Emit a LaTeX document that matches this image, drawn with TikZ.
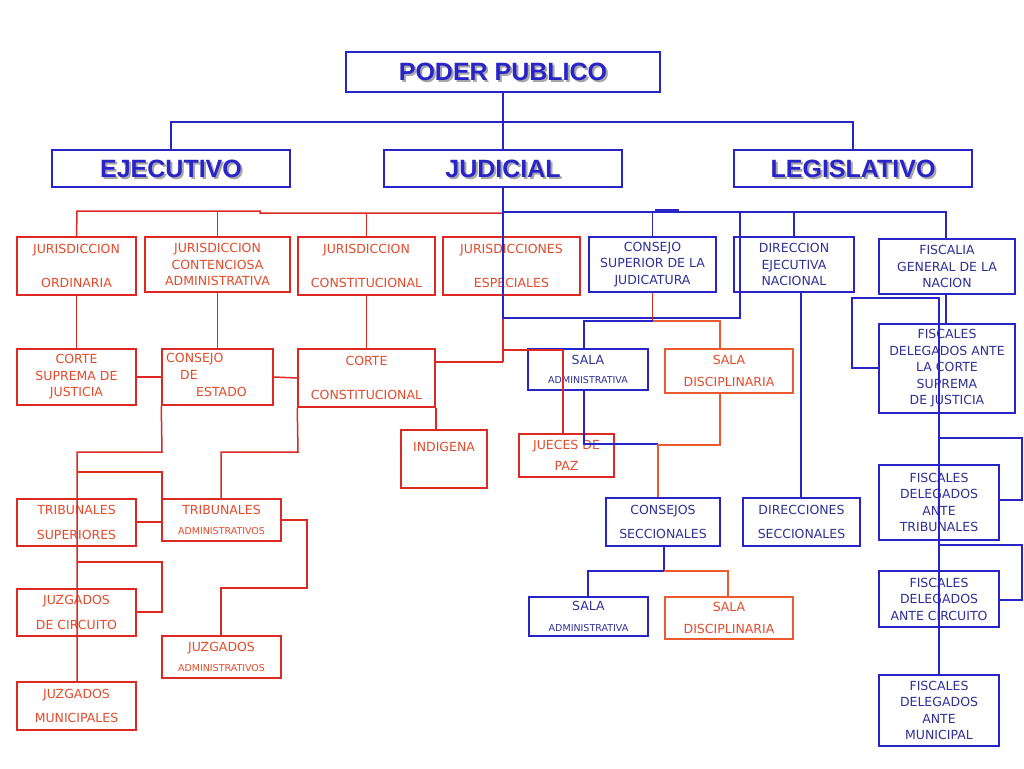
\documentclass[tikz,border=0pt]{standalone}
\usepackage{fontspec}
\setmainfont{DejaVu Sans}
\newfontfamily\titlefont{Liberation Sans}
\begin{document}
\begin{tikzpicture}[x=1pt,y=-1pt,
  rl/.style={draw={rgb,255:red,222;green,40;blue,36},line width=1.5pt},
  bl/.style={draw={rgb,255:red,40;green,36;blue,200},line width=1.5pt},
  ol/.style={draw={rgb,255:red,236;green,90;blue,50},line width=1.5pt}]
\definecolor{lr}{RGB}{222,40,36}
\definecolor{tr}{RGB}{226,76,44}
\definecolor{lb}{RGB}{40,36,200}
\definecolor{tb}{RGB}{48,48,150}
\definecolor{lo}{RGB}{236,90,50}
\tikzset{box/.style={draw,line width=1.5pt,inner sep=0pt,align=center,font=\fontsize{12.5}{16.5}\selectfont}}
\newcommand\sm{\fontsize{9.5}{11}\selectfont}
\newcommand\bx[7]{\node[box,draw=#6,text=#7,minimum width={(#4-#2)*1pt},minimum height={(#5-#3)*1pt}] (#1) at ({(#2+#4)/2},{(#3+#5)/2})}
\newcommand\ttl[6]{\node[draw=lb,line width=1.5pt,minimum width={(#4-#2)*1pt},minimum height={(#5-#3)*1pt},inner sep=0pt] (#1) at ({(#2+#4)/2},{(#3+#5)/2}) {};
 \node[text=gray!70,font=\titlefont\bfseries\fontsize{25}{28}\selectfont] at ([xshift=2pt,yshift=-2pt]#1.center) {#6};
 \node[text=lb,font=\titlefont\bfseries\fontsize{25}{28}\selectfont] at (#1.center) {#6};}
\useasboundingbox (0,0) rectangle (1024,768);
\fill[white] (0,0) rectangle (1024,768);
% titles
\ttl{pp}{346}{52}{660}{92}{PODER PUBLICO}
\ttl{ej}{52}{150}{290}{187}{EJECUTIVO}
\ttl{ju}{384}{150}{622}{187}{JUDICIAL}
\ttl{le}{734}{150}{972}{187}{LEGISLATIVO}
\draw[bl] (pp.south) -- (503,122) coordinate (ppb);
\draw[bl] (ej.north) |- (le.north |- ppb) -- (le.north);
\draw[bl] (ppb) -- (ju.north);
% row 2
\bx{jo}{17}{237}{136}{295}{lr}{tr}{JURISDICCION\\[17pt]ORDINARIA};
\bx{jca}{145}{237}{290}{292}{lr}{tr}{JURISDICCION\\CONTENCIOSA\\ADMINISTRATIVA};
\bx{jc}{298}{237}{435}{295}{lr}{tr}{JURISDICCION\\[17pt]CONSTITUCIONAL};
\bx{je}{443}{237}{580}{295}{lr}{tr}{JURISDICCIONES\\[17pt]ESPECIALES};
\bx{csj}{589}{237}{716}{292}{lb}{tb}{CONSEJO\\SUPERIOR DE LA\\JUDICATURA};
\bx{den}{734}{237}{854}{292}{lb}{tb}{DIRECCION\\EJECUTIVA\\NACIONAL};
\bx{fgn}{879}{239}{1015}{294}{lb}{tb}{FISCALIA\\GENERAL DE LA\\NACION};
% red bus
\draw[rl] (jo.north) -- (77,211) -- (260,211) -- (260,213) -- (503,213);
\draw[rl] (jca.north) -- (jca.north |- 0,211);
\draw[rl] (jc.north) -- (jc.north |- 0,213);
\draw[rl] (503,213) -- (503,362) coordinate (rdrop);
% blue bus
\draw[bl] (ju.south) -- (503,318) -- (740,318) -- (740,212) -- (503,212);
\draw[bl] (656,212) -- (656,210) -- (678,210) -- (678,212) -- (946,212) -- (fgn.north -| 946,0);
\draw[bl] (csj.north) -- (csj.north |- 0,212);
\draw[bl] (den.north) -- (den.north |- 0,212);
% row 3
\bx{cs}{17}{349}{136}{405}{lr}{tr}{CORTE\\SUPREMA DE\\JUSTICIA};
\node[box,draw=lr,minimum width=111pt,minimum height=56pt] (ce) at (217.5,377) {};
\node[text=tr,font=\fontsize{12.5}{16.5}\selectfont,anchor=north west,inner sep=0pt] at (166,353) {CONSEJO};
\node[text=tr,font=\fontsize{12.5}{16.5}\selectfont,anchor=north west,inner sep=0pt] at (180,370) {DE};
\node[text=tr,font=\fontsize{12.5}{16.5}\selectfont,anchor=north west,inner sep=0pt] at (196,387) {ESTADO};
\bx{cc}{298}{349}{435}{407}{lr}{tr}{CORTE\\[17pt]CONSTITUCIONAL};
\bx{ind}{401}{430}{487}{488}{lr}{tr}{INDIGENA\\[8pt]};
\draw[rl] (jo.south) -- (cs.north);
\draw[rl] (jca.south) -- (ce.north);
\draw[rl] (jc.south) -- (cc.north);
\draw[rl] (cs.east) -- (ce.west);
\draw[rl] (ce.east) -- (cc.west);
\draw[rl] (rdrop) -- (cc.east |- rdrop);
\draw[rl] (cc.south east) -- (ind.north -| cc.south east);
% consejo superior subtree
\bx{sa}{528}{349}{648}{390}{lb}{tb}{SALA\\[3pt]{\sm ADMINISTRATIVA}};
\bx{sd}{665}{349}{793}{393}{lo}{tr}{SALA\\[5pt]DISCIPLINARIA};
\bx{jp}{519}{434}{614}{477}{lr}{tr}{JUECES DE\\[5pt]PAZ};
\draw[rl] (csj.south) -- (csj.south |- 0,321) coordinate (csjb);
\draw[bl] (csjb) -- (584,321) -- (sa.north -| 584,0);
\draw[ol] (csjb) -- (720,321) -- (sd.north -| 720,0);
\draw[rl] (503,350) -- (563,350) -- (jp.north -| 563,0);
\bx{csec}{606}{498}{720}{546}{lb}{tb}{CONSEJOS\\[8pt]SECCIONALES};
\bx{dsec}{743}{498}{860}{546}{lb}{tb}{DIRECCIONES\\[8pt]SECCIONALES};
\draw[bl] (sa.south -| 584,0) -- (584,444) -- (658,444);
\draw[ol] (sd.south -| 720,0) -- (720,445) -- (658,445) -- (csec.north -| 658,0);
\draw[bl] (den.south -| 801,0) -- (dsec.north -| 801,0);
\bx{sa2}{529}{597}{648}{636}{lb}{tb}{SALA\\[4pt]{\sm ADMINISTRATIVA}};
\bx{sd2}{665}{597}{793}{639}{lo}{tr}{SALA\\[6pt]DISCIPLINARIA};
\draw[bl] (csec.south -| 664,0) -- (664,571) -- (588,571) -- (sa2.north -| 588,0);
\draw[ol] (664,571) -- (728,571) -- (sd2.north -| 728,0);
% left lower
\bx{ts}{17}{499}{136}{546}{lr}{tr}{TRIBUNALES\\[8pt]SUPERIORES};
\bx{ta}{162}{499}{281}{541}{lr}{tr}{TRIBUNALES\\[3pt]{\sm ADMINISTRATIVOS}};
\bx{jci}{17}{589}{136}{636}{lr}{tr}{JUZGADOS\\[8pt]DE CIRCUITO};
\bx{jad}{162}{636}{281}{678}{lr}{tr}{JUZGADOS\\[3pt]{\sm ADMINISTRATIVOS}};
\bx{jm}{17}{682}{136}{730}{lr}{tr}{JUZGADOS\\[8pt]MUNICIPALES};
\draw[rl] (ce.south west) -- (162,452) -- (77,452) -- (jm.north -| 77,0);
\draw[rl] (77,472) -- (162,472) -- (162,522) -- (ts.east |- 0,522);
\draw[rl] (cc.south west) -- (298,452) -- (221,452) -- (ta.north -| 221,0);
\draw[rl] (ta.east) -- (307,520) -- (307,588) -- (221,588) -- (jad.north -| 221,0);
\draw[rl] (77,562) -- (162,562) -- (162,612) -- (jci.east |- 0,612);
% fiscalia
\bx{fc}{879}{324}{1015}{413}{lb}{tb}{FISCALES\\DELEGADOS ANTE\\LA CORTE\\SUPREMA\hspace*{40pt}\\DE JUSTICIA};
\bx{ft}{879}{465}{999}{540}{lb}{tb}{FISCALES\\DELEGADOS\\ANTE\\TRIBUNALES};
\bx{fci}{879}{571}{999}{627}{lb}{tb}{FISCALES\\DELEGADOS\\ANTE CIRCUITO};
\bx{fm}{879}{675}{999}{746}{lb}{tb}{FISCALES\\DELEGADOS\\ANTE\\MUNICIPAL};
\draw[bl] (fgn.south -| 946,0) -- (fc.north -| 946,0);
\draw[bl] (fc.west |- 0,368) -- (852,368) -- (852,298) -- (939,298) -- (fm.north -| 939,0);
\draw[bl] (939,438) -- (1022,438) -- (1022,500) -- (ft.east |- 0,500);
\draw[bl] (939,545) -- (1022,545) -- (1022,600) -- (fci.east |- 0,600);
\end{tikzpicture}
\end{document}
